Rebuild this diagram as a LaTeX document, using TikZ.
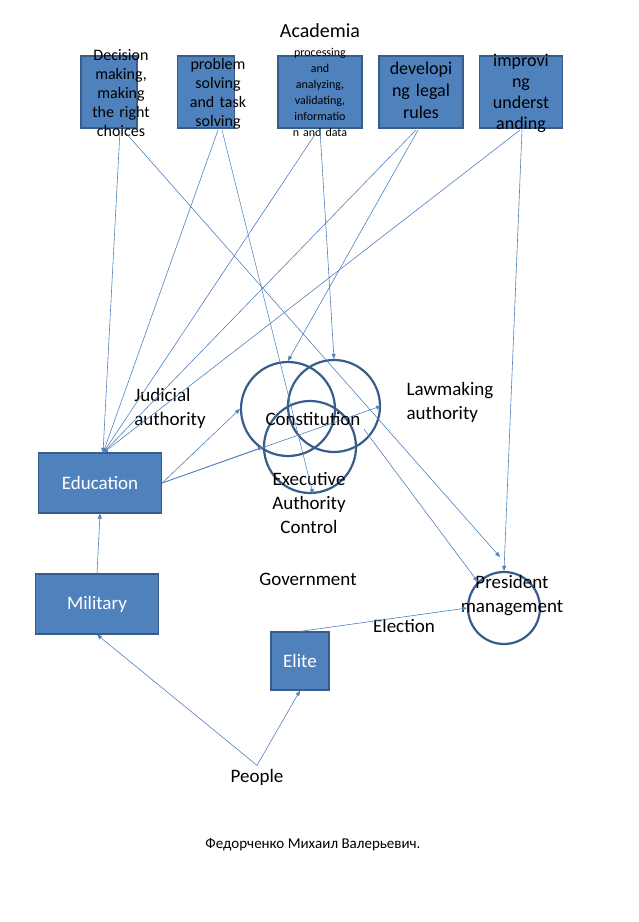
\documentclass[tikz,border=0pt]{standalone}
\usepackage{fontspec}
\setmainfont{Carlito}
\usetikzlibrary{arrows.meta}
\definecolor{bf}{HTML}{4F81BD}
\definecolor{bd}{HTML}{385D8A}
\begin{document}
\begin{tikzpicture}[x=1pt,y=-1pt,
 box/.style={draw=bd,line width=1.2pt,fill=bf,inner sep=0pt},
 btxt/.style={align=center,text width=70pt,font=\fontsize{16}{19}\selectfont},
 wtxt/.style={text=white,font=\fontsize{19}{22}\selectfont},
 lab/.style={align=left,font=\fontsize{19}{24}\selectfont},
 circ/.style={draw=bd,line width=2.2pt,circle,inner sep=0pt},
 ar/.style={draw=bf,line width=0.6pt,-{Triangle[length=5pt,width=4pt]}}]
\useasboundingbox (0,0) rectangle (638,922);
\node[box,minimum width=56pt,minimum height=72pt] (b1) at (109,92) {};
\node[box,minimum width=57pt,minimum height=72pt] (b2) at (206,92) {};
\node[box,minimum width=84pt,minimum height=72pt] (b3) at (320,92) {};
\node[box,minimum width=84pt,minimum height=72pt] (b4) at (421,92) {};
\node[box,minimum width=83pt,minimum height=72pt] (b5) at (521,92) {};
\node[btxt] (t1) at (121,93) {Decision\\making,\\making\\the right\\choices};
\node[btxt] (t2) at (218,94) {problem\\solving\\and task\\solving};
\node[btxt,font=\fontsize{12}{16}\selectfont] (t3) at (320,92) {processing\\and\\analyzing,\\validating,\\informatio\\n and data};
\node[btxt,font=\fontsize{18}{22}\selectfont] (t4) at (421,90) {developi\\ng legal\\rules};
\node[btxt,font=\fontsize{18}{21}\selectfont] (t5) at (521,93) {improvi\\ng\\underst\\anding};
\node[font=\fontsize{20}{22}\selectfont] (acad) at (320,31) {Academia};
\node[box,minimum width=123pt,minimum height=60pt] (edu) at (100,483) {};
\node[wtxt] (edut) at (100,483) {Education};
\node[box,minimum width=123pt,minimum height=60pt] (mil) at (97,604) {};
\node[wtxt] (milt) at (97,604) {Military};
\node[box,minimum width=58pt,minimum height=58pt] (eli) at (300,661) {};
\node[wtxt] (elit) at (300,661) {Elite};
\node[circ,minimum size=94pt] (c1) at (288,409) {};
\node[circ,minimum size=92pt] (c2) at (334,406) {};
\node[circ,minimum size=92pt] (c3) at (310,447) {};
\node[circ,minimum size=72pt] (pr) at (504,608) {};
\node[lab,align=center] (cons) at (313,419) {Constitution};
\node[lab,align=center] (exe) at (309,503) {Executive\\Authority\\Control};
\node[lab] (jud) at (170,408) {Judicial\\authority};
\node[lab] (law) at (450,402) {Lawmaking\\authority};
\node[lab] (gov) at (308,579) {Government};
\node[lab,align=center] (pres) at (512,596) {President\\management};
\node[lab] (elec) at (404,626) {Election};
\node[lab] (peo) at (257,777) {People};
\node[font=\fontsize{15}{18}\selectfont] (auth) at (313,845) {Федорченко Михаил Валерьевич.};
\coordinate (e) at (103,453);
\draw[ar] (120,130) -- (e);
\draw[ar] (218,130) -- (e);
\draw[ar] (318,130) -- (e);
\draw[ar] (416,130) -- (e);
\draw[ar] (520,130) -- (e);
\draw[ar] (125,132) -- (500,557);
\draw[ar] (222,130) -- (313,494);
\draw[ar] (320,130) -- (c2.north);
\draw[ar] (418,130) -- (c1.north);
\draw[ar] (522,130) -- (pr.north);
\draw[ar] (edu.east) -- (c1.west);
\draw[ar] (edu.east) -- (c2.east);
\draw[ar] (edu.east) -- (c3.west);
\draw[ar] (cons.south east) -- (pr.north west);
\draw[ar] (mil.north) -- (edu.south);
\draw[ar] (peo.north) -- (mil.south);
\draw[ar] (peo.north) -- (eli.south);
\draw[ar] (eli.north) -- (pr.west);
\end{tikzpicture}
\end{document}
